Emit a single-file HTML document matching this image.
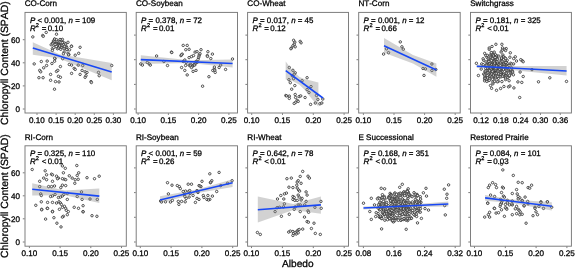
<!DOCTYPE html>
<html lang="en"><head><meta charset="utf-8"><title>Chlorophyll content vs albedo</title>
<style>html,body{margin:0;padding:0;background:#fff;overflow:hidden}svg{display:block;filter:blur(.35px)}text{font-family:"Liberation Sans",Arial,Helvetica,sans-serif;fill:#000;text-rendering:geometricPrecision;font-kerning:none;stroke:#000;stroke-width:.27px}.t{font-size:8.1px}.a{font-size:7.95px}.k{font-size:8.1px}.l{font-size:10.4px}.m{font-size:10.15px}.i{font-style:italic}.p circle{fill:#fff;fill-opacity:.7;stroke:#3c3c3c;stroke-width:.9}</style></head><body>
<svg width="575" height="269" viewBox="0 0 575 269">
<rect width="575" height="269" fill="#fff"/>
<g>
<clipPath id="c0"><rect x="25" y="12.4" width="101.3" height="100.6"/></clipPath>
<g clip-path="url(#c0)">
<g class="p"><circle cx="32.8" cy="36.9" r="1.22"/><circle cx="42.7" cy="35.5" r="1.22"/><circle cx="43.3" cy="36.3" r="1.22"/><circle cx="46.2" cy="32.4" r="1.22"/><circle cx="71.6" cy="46.2" r="1.22"/><circle cx="80.1" cy="47.3" r="1.22"/><circle cx="78.7" cy="53.3" r="1.22"/><circle cx="75.2" cy="55.2" r="1.22"/><circle cx="68.9" cy="54.6" r="1.22"/><circle cx="34.2" cy="63.9" r="1.22"/><circle cx="41.3" cy="61.5" r="1.22"/><circle cx="47.2" cy="61.1" r="1.22"/><circle cx="46.6" cy="65.5" r="1.22"/><circle cx="43.7" cy="67.8" r="1.22"/><circle cx="39.7" cy="70.4" r="1.22"/><circle cx="40.7" cy="71.8" r="1.22"/><circle cx="50.6" cy="74.4" r="1.22"/><circle cx="56.5" cy="71.4" r="1.22"/><circle cx="57.8" cy="70.4" r="1.22"/><circle cx="60.4" cy="66.5" r="1.22"/><circle cx="55.1" cy="58.6" r="1.22"/><circle cx="51.9" cy="63.5" r="1.22"/><circle cx="38.9" cy="77.7" r="1.22"/><circle cx="43.1" cy="77.7" r="1.22"/><circle cx="50.6" cy="80.3" r="1.22"/><circle cx="58.4" cy="76.3" r="1.22"/><circle cx="60.4" cy="77.3" r="1.22"/><circle cx="55.5" cy="81.6" r="1.22"/><circle cx="69.3" cy="64.5" r="1.22"/><circle cx="71.6" cy="65.1" r="1.22"/><circle cx="74.2" cy="68.4" r="1.22"/><circle cx="75.2" cy="69.4" r="1.22"/><circle cx="71.6" cy="73.4" r="1.22"/><circle cx="80.1" cy="74.4" r="1.22"/><circle cx="78.2" cy="65.1" r="1.22"/><circle cx="82.7" cy="65.5" r="1.22"/><circle cx="82.1" cy="70.4" r="1.22"/><circle cx="85.1" cy="71.8" r="1.22"/><circle cx="87" cy="72.4" r="1.22"/><circle cx="86" cy="75.7" r="1.22"/><circle cx="85.1" cy="77.3" r="1.22"/><circle cx="91" cy="81.6" r="1.22"/><circle cx="98.5" cy="72.4" r="1.22"/><circle cx="99.2" cy="75.7" r="1.22"/><circle cx="111.7" cy="65.5" r="1.22"/><circle cx="54.5" cy="89.2" r="1.22"/><circle cx="91.4" cy="82.5" r="1.22"/><circle cx="59" cy="81.9" r="1.22"/><circle cx="56.5" cy="34.2" r="1.22"/><circle cx="54.6" cy="39.2" r="1.22"/><circle cx="53.5" cy="40.9" r="1.22"/><circle cx="55.1" cy="41.5" r="1.22"/><circle cx="52.4" cy="43.1" r="1.22"/><circle cx="51.2" cy="44.8" r="1.22"/><circle cx="56.8" cy="42.6" r="1.22"/><circle cx="58.5" cy="43.1" r="1.22"/><circle cx="60.7" cy="39.8" r="1.22"/><circle cx="61.8" cy="40.4" r="1.22"/><circle cx="62.9" cy="42.6" r="1.22"/><circle cx="64.6" cy="43.1" r="1.22"/><circle cx="68" cy="42.3" r="1.22"/><circle cx="59.6" cy="44.3" r="1.22"/><circle cx="61.3" cy="44.8" r="1.22"/><circle cx="57.9" cy="45.4" r="1.22"/><circle cx="56.3" cy="46.5" r="1.22"/><circle cx="57.4" cy="48.7" r="1.22"/><circle cx="60.2" cy="47.6" r="1.22"/><circle cx="62.4" cy="46.5" r="1.22"/><circle cx="64.1" cy="47" r="1.22"/><circle cx="66.3" cy="46.5" r="1.22"/><circle cx="66.8" cy="47.6" r="1.22"/><circle cx="64.1" cy="48.7" r="1.22"/><circle cx="60.7" cy="49.3" r="1.22"/><circle cx="52.4" cy="48.7" r="1.22"/><circle cx="52.4" cy="50.4" r="1.22"/><circle cx="71.3" cy="46.3" r="1.22"/><circle cx="69.6" cy="49.8" r="1.22"/><circle cx="64.1" cy="52.1" r="1.22"/><circle cx="63.5" cy="53.7" r="1.22"/><circle cx="68" cy="53.2" r="1.22"/><circle cx="68.5" cy="54.8" r="1.22"/><circle cx="62.7" cy="58.7" r="1.22"/><circle cx="54.6" cy="58.2" r="1.22"/><circle cx="54.6" cy="61.2" r="1.22"/><circle cx="58.9" cy="44.9" r="1.22"/><circle cx="65.7" cy="43.9" r="1.22"/><circle cx="59.7" cy="45.2" r="1.22"/><circle cx="55" cy="44.4" r="1.22"/><circle cx="61.5" cy="47.4" r="1.22"/><circle cx="53.7" cy="42.2" r="1.22"/><circle cx="53.7" cy="47.6" r="1.22"/><circle cx="62.4" cy="39.4" r="1.22"/><circle cx="66.6" cy="49.2" r="1.22"/><circle cx="61.8" cy="45.5" r="1.22"/><circle cx="54.6" cy="39.1" r="1.22"/><circle cx="60" cy="39.5" r="1.22"/><circle cx="55.1" cy="41.5" r="1.22"/><circle cx="52.8" cy="43.9" r="1.22"/><circle cx="58.7" cy="47.9" r="1.22"/><circle cx="59.9" cy="45.8" r="1.22"/><circle cx="59.6" cy="46" r="1.22"/><circle cx="59" cy="41.9" r="1.22"/><circle cx="66.8" cy="49.6" r="1.22"/><circle cx="64.5" cy="46.5" r="1.22"/><circle cx="56.9" cy="41.4" r="1.22"/><circle cx="56.5" cy="39.7" r="1.22"/></g>
<polygon points="32.8,42.2 59.4,54.2 111.7,63.1 111.7,80.3 59.4,58.6 32.8,54.7" fill="#8a8a8a" fill-opacity=".38"/>
<line x1="32.8" y1="48.1" x2="111.7" y2="72" stroke="#1848f5" stroke-width="1.6"/>
</g>
<rect x="25" y="12.4" width="101.3" height="100.6" fill="none" stroke="#787878" stroke-width=".95"/>
<path d="M22.8 109h1.7M22.8 85.9h1.7M22.8 62.8h1.7M22.8 39.7h1.7M37 113.4v1.5M56.1 113.4v1.5M75.2 113.4v1.5M94.3 113.4v1.5M113.4 113.4v1.5" stroke="#444" stroke-width=".7" fill="none"/>
<text class="t" x="24.7" y="6.3">CO-Corn</text>
<text class="a" x="29.9" y="23"><tspan class="i">P</tspan> &lt; 0.001, <tspan class="i">n</tspan> = 109</text>
<text class="a" x="29.9" y="30.5"><tspan class="i">R</tspan><tspan dy="-3.8" dx=".2" font-size="5.6">2</tspan><tspan dy="3.8" dx="2.8">=</tspan><tspan dx="1.3">0.10</tspan></text>
<text class="k" text-anchor="middle" x="37" y="123.2">0.10</text>
<text class="k" text-anchor="middle" x="56.1" y="123.2">0.15</text>
<text class="k" text-anchor="middle" x="75.2" y="123.2">0.20</text>
<text class="k" text-anchor="middle" x="94.3" y="123.2">0.25</text>
<text class="k" text-anchor="middle" x="113.4" y="123.2">0.30</text>
<text class="k" text-anchor="end" x="20" y="111.8">0</text>
<text class="k" text-anchor="end" x="20" y="88.7">20</text>
<text class="k" text-anchor="end" x="20" y="65.6">40</text>
<text class="k" text-anchor="end" x="20" y="42.5">60</text>
</g>
<g>
<clipPath id="c1"><rect x="136.2" y="12.4" width="101.3" height="100.6"/></clipPath>
<g clip-path="url(#c1)">
<g class="p"><circle cx="140.8" cy="63.9" r="1.22"/><circle cx="142.4" cy="65.1" r="1.22"/><circle cx="147.3" cy="62.5" r="1.22"/><circle cx="149.3" cy="63.9" r="1.22"/><circle cx="150.3" cy="65.1" r="1.22"/><circle cx="156.6" cy="56" r="1.22"/><circle cx="163.9" cy="61.5" r="1.22"/><circle cx="167.5" cy="65.5" r="1.22"/><circle cx="171.4" cy="52.1" r="1.22"/><circle cx="171.8" cy="52.5" r="1.22"/><circle cx="180.9" cy="55.6" r="1.22"/><circle cx="182.2" cy="54.1" r="1.22"/><circle cx="183.2" cy="45.4" r="1.22"/><circle cx="187.2" cy="45.4" r="1.22"/><circle cx="185.8" cy="49.7" r="1.22"/><circle cx="189.1" cy="49.3" r="1.22"/><circle cx="184.8" cy="60" r="1.22"/><circle cx="181.6" cy="67.5" r="1.22"/><circle cx="184.8" cy="70.4" r="1.22"/><circle cx="187.2" cy="74.9" r="1.22"/><circle cx="185.6" cy="65.5" r="1.22"/><circle cx="189.1" cy="65.1" r="1.22"/><circle cx="190.7" cy="64.5" r="1.22"/><circle cx="193.1" cy="65.5" r="1.22"/><circle cx="195.1" cy="63.9" r="1.22"/><circle cx="197" cy="62.5" r="1.22"/><circle cx="193.1" cy="71.4" r="1.22"/><circle cx="196" cy="70.4" r="1.22"/><circle cx="191.5" cy="56.6" r="1.22"/><circle cx="193.5" cy="55.6" r="1.22"/><circle cx="195.1" cy="52.1" r="1.22"/><circle cx="197" cy="51.7" r="1.22"/><circle cx="198.6" cy="57.6" r="1.22"/><circle cx="199.4" cy="54.6" r="1.22"/><circle cx="201" cy="49.7" r="1.22"/><circle cx="198" cy="59.6" r="1.22"/><circle cx="196" cy="61.5" r="1.22"/><circle cx="207.9" cy="51.7" r="1.22"/><circle cx="207.3" cy="55.6" r="1.22"/><circle cx="210.8" cy="58.6" r="1.22"/><circle cx="212.4" cy="54.1" r="1.22"/><circle cx="208.9" cy="76.7" r="1.22"/><circle cx="212.8" cy="70.4" r="1.22"/><circle cx="214.4" cy="69.4" r="1.22"/><circle cx="215.2" cy="72.4" r="1.22"/><circle cx="214.4" cy="67.1" r="1.22"/><circle cx="219.1" cy="67.5" r="1.22"/><circle cx="220.7" cy="65.1" r="1.22"/><circle cx="225.6" cy="69.4" r="1.22"/><circle cx="232.5" cy="59" r="1.22"/><circle cx="181.6" cy="54.8" r="1.22"/><circle cx="192.3" cy="66.3" r="1.22"/><circle cx="193.9" cy="64.7" r="1.22"/><circle cx="190.3" cy="65.9" r="1.22"/><circle cx="199" cy="56" r="1.22"/><circle cx="207.5" cy="56.4" r="1.22"/><circle cx="214.8" cy="70.2" r="1.22"/><circle cx="189.1" cy="57.6" r="1.22"/><circle cx="183.2" cy="61.5" r="1.22"/><circle cx="186.2" cy="62.5" r="1.22"/><circle cx="200" cy="53.7" r="1.22"/><circle cx="191.5" cy="67.5" r="1.22"/><circle cx="194.7" cy="65.1" r="1.22"/><circle cx="202.6" cy="86.2" r="1.22"/></g>
<polygon points="140.8,55.2 190,60.2 232.6,59.6 232.6,67.5 190,63 140.8,63.9" fill="#8a8a8a" fill-opacity=".38"/>
<line x1="140.8" y1="59.6" x2="232.6" y2="63.5" stroke="#1848f5" stroke-width="1.6"/>
</g>
<rect x="136.2" y="12.4" width="101.3" height="100.6" fill="none" stroke="#787878" stroke-width=".95"/>
<path d="M134 109h1.7M134 84.4h1.7M134 59.7h1.7M134 35.1h1.7M138.1 113.4v1.5M168.4 113.4v1.5M198.6 113.4v1.5M228.9 113.4v1.5" stroke="#444" stroke-width=".7" fill="none"/>
<text class="t" x="135.9" y="6.3">CO-Soybean</text>
<text class="a" x="141.1" y="23"><tspan class="i">P</tspan> = 0.378, <tspan class="i">n</tspan> = 72</text>
<text class="a" x="141.1" y="30.5"><tspan class="i">R</tspan><tspan dy="-3.8" dx=".2" font-size="5.6">2</tspan><tspan dy="3.8" dx="2.8">=</tspan><tspan dx="1.3">0.01</tspan></text>
<text class="k" text-anchor="middle" x="138.1" y="123.2">0.10</text>
<text class="k" text-anchor="middle" x="168.4" y="123.2">0.15</text>
<text class="k" text-anchor="middle" x="198.6" y="123.2">0.20</text>
<text class="k" text-anchor="middle" x="228.9" y="123.2">0.25</text>
</g>
<g>
<clipPath id="c2"><rect x="247.6" y="12.4" width="100.9" height="100.6"/></clipPath>
<g clip-path="url(#c2)">
<g class="p"><circle cx="289.3" cy="67.5" r="1.22"/><circle cx="292.9" cy="70.3" r="1.22"/><circle cx="295.2" cy="72.8" r="1.22"/><circle cx="294.2" cy="74.2" r="1.22"/><circle cx="292.3" cy="75.8" r="1.22"/><circle cx="293.6" cy="78.7" r="1.22"/><circle cx="288.9" cy="79.7" r="1.22"/><circle cx="290.3" cy="82.7" r="1.22"/><circle cx="294.8" cy="85.6" r="1.22"/><circle cx="291.7" cy="89.2" r="1.22"/><circle cx="307.1" cy="77.7" r="1.22"/><circle cx="302.1" cy="80.7" r="1.22"/><circle cx="311" cy="86.6" r="1.22"/><circle cx="307.1" cy="89.6" r="1.22"/><circle cx="309" cy="92.5" r="1.22"/><circle cx="285.8" cy="95.5" r="1.22"/><circle cx="286.6" cy="95.9" r="1.22"/><circle cx="289.3" cy="96.1" r="1.22"/><circle cx="289.3" cy="98.4" r="1.22"/><circle cx="295.2" cy="94.5" r="1.22"/><circle cx="295.6" cy="97.5" r="1.22"/><circle cx="299.2" cy="96.5" r="1.22"/><circle cx="300.7" cy="95.9" r="1.22"/><circle cx="305.1" cy="97.5" r="1.22"/><circle cx="297.2" cy="100.4" r="1.22"/><circle cx="295.6" cy="102.4" r="1.22"/><circle cx="294.2" cy="103.4" r="1.22"/><circle cx="298.2" cy="101.4" r="1.22"/><circle cx="310.6" cy="104.4" r="1.22"/><circle cx="315.3" cy="103" r="1.22"/><circle cx="317.9" cy="99.4" r="1.22"/><circle cx="319.9" cy="103.8" r="1.22"/><circle cx="321.8" cy="103" r="1.22"/><circle cx="322.8" cy="99" r="1.22"/><circle cx="316.5" cy="95.5" r="1.22"/><circle cx="293.6" cy="40.3" r="1.22"/><circle cx="294.8" cy="42.2" r="1.22"/><circle cx="294.2" cy="44.2" r="1.22"/><circle cx="292.9" cy="45.8" r="1.22"/><circle cx="291.3" cy="48.1" r="1.22"/><circle cx="290.9" cy="48.7" r="1.22"/><circle cx="300.2" cy="41.4" r="1.22"/><circle cx="301.1" cy="42.8" r="1.22"/><circle cx="295.2" cy="46.8" r="1.22"/></g>
<polygon points="285.7,61.4 292,69.8 299.5,76.9 305,79.3 309.7,80.2 318.4,82.4 318.4,106.8 309.7,96.2 305,90.3 299.5,84.7 292,80.8 285.7,79.4" fill="#8a8a8a" fill-opacity=".38"/>
<line x1="285.7" y1="70.7" x2="322.9" y2="98" stroke="#1848f5" stroke-width="1.6"/>
</g>
<rect x="247.6" y="12.4" width="100.9" height="100.6" fill="none" stroke="#787878" stroke-width=".95"/>
<path d="M245.4 109h1.7M245.4 84.4h1.7M245.4 59.7h1.7M245.4 35.1h1.7M251.7 113.4v1.5M282.5 113.4v1.5M313.3 113.4v1.5M344.1 113.4v1.5" stroke="#444" stroke-width=".7" fill="none"/>
<text class="t" x="247.3" y="6.3">CO-Wheat</text>
<text class="a" x="252.5" y="23"><tspan class="i">P</tspan> = 0.017, <tspan class="i">n</tspan> = 45</text>
<text class="a" x="252.5" y="30.5"><tspan class="i">R</tspan><tspan dy="-3.8" dx=".2" font-size="5.6">2</tspan><tspan dy="3.8" dx="2.8">=</tspan><tspan dx="1.3">0.12</tspan></text>
<text class="k" text-anchor="middle" x="251.7" y="123.2">0.10</text>
<text class="k" text-anchor="middle" x="282.5" y="123.2">0.15</text>
<text class="k" text-anchor="middle" x="313.3" y="123.2">0.20</text>
<text class="k" text-anchor="middle" x="344.1" y="123.2">0.25</text>
</g>
<g>
<clipPath id="c3"><rect x="358.7" y="12.4" width="101.5" height="100.6"/></clipPath>
<g clip-path="url(#c3)">
<g class="p"><circle cx="383.6" cy="54.1" r="1.22"/><circle cx="388.5" cy="52.7" r="1.22"/><circle cx="386.5" cy="48.8" r="1.22"/><circle cx="400.3" cy="41.9" r="1.22"/><circle cx="401.9" cy="46.8" r="1.22"/><circle cx="403.3" cy="49.2" r="1.22"/><circle cx="431.9" cy="64" r="1.22"/><circle cx="423" cy="68.5" r="1.22"/><circle cx="425.4" cy="68.9" r="1.22"/><circle cx="431.9" cy="70.5" r="1.22"/><circle cx="435.8" cy="69.5" r="1.22"/><circle cx="424" cy="75.4" r="1.22"/></g>
<polygon points="384,38 413,55 436.4,63.6 436.4,76.8 413,63.4 384,52.8" fill="#8a8a8a" fill-opacity=".38"/>
<line x1="384" y1="45.8" x2="436.4" y2="69.9" stroke="#1848f5" stroke-width="1.6"/>
</g>
<rect x="358.7" y="12.4" width="101.5" height="100.6" fill="none" stroke="#787878" stroke-width=".95"/>
<path d="M356.5 109h1.7M356.5 84.4h1.7M356.5 59.7h1.7M356.5 35.1h1.7M363.4 113.4v1.5M394 113.4v1.5M424.6 113.4v1.5M455.2 113.4v1.5" stroke="#444" stroke-width=".7" fill="none"/>
<text class="t" x="358.4" y="6.3">NT-Corn</text>
<text class="a" x="363.6" y="23"><tspan class="i">P</tspan> = 0.001, <tspan class="i">n</tspan> = 12</text>
<text class="a" x="363.6" y="30.5"><tspan class="i">R</tspan><tspan dy="-3.8" dx=".2" font-size="5.6">2</tspan><tspan dy="3.8" dx="2.8">=</tspan><tspan dx="1.3">0.66</tspan></text>
<text class="k" text-anchor="middle" x="363.4" y="123.2">0.10</text>
<text class="k" text-anchor="middle" x="394" y="123.2">0.15</text>
<text class="k" text-anchor="middle" x="424.6" y="123.2">0.20</text>
<text class="k" text-anchor="middle" x="455.2" y="123.2">0.25</text>
</g>
<g>
<clipPath id="c4"><rect x="470.5" y="12.4" width="100.9" height="100.6"/></clipPath>
<g clip-path="url(#c4)">
<g class="p"><circle cx="532" cy="69.6" r="1.22"/><circle cx="538.5" cy="81.8" r="1.22"/><circle cx="549.8" cy="77.8" r="1.22"/><circle cx="566.5" cy="81.4" r="1.22"/><circle cx="513.9" cy="87.9" r="1.22"/><circle cx="521.8" cy="82.4" r="1.22"/><circle cx="523.2" cy="76.5" r="1.22"/><circle cx="522.2" cy="60.7" r="1.22"/><circle cx="491.6" cy="88.3" r="1.22"/><circle cx="496.5" cy="90.3" r="1.22"/><circle cx="492" cy="46.5" r="1.22"/><circle cx="495.9" cy="44.3" r="1.22"/><circle cx="501.9" cy="44.3" r="1.22"/><circle cx="502.5" cy="47.9" r="1.22"/><circle cx="476.4" cy="63.3" r="1.22"/><circle cx="478.4" cy="75.5" r="1.22"/><circle cx="484.7" cy="53.4" r="1.22"/><circle cx="485.7" cy="55.4" r="1.22"/><circle cx="510.3" cy="52.8" r="1.22"/><circle cx="515.3" cy="56.8" r="1.22"/><circle cx="520.8" cy="59.7" r="1.22"/><circle cx="523.2" cy="61.7" r="1.22"/><circle cx="519.7" cy="97.5" r="1.22"/><circle cx="501.4" cy="73.1" r="1.22"/><circle cx="506.2" cy="48.6" r="1.22"/><circle cx="484.6" cy="78.8" r="1.22"/><circle cx="497" cy="63.4" r="1.22"/><circle cx="499" cy="73.4" r="1.22"/><circle cx="492.5" cy="68.1" r="1.22"/><circle cx="507.5" cy="68.9" r="1.22"/><circle cx="501.3" cy="63.3" r="1.22"/><circle cx="481.2" cy="69.1" r="1.22"/><circle cx="492.8" cy="73.2" r="1.22"/><circle cx="498.9" cy="73.1" r="1.22"/><circle cx="503.9" cy="86.5" r="1.22"/><circle cx="494.4" cy="69.5" r="1.22"/><circle cx="493" cy="70" r="1.22"/><circle cx="481.7" cy="63.9" r="1.22"/><circle cx="510.9" cy="73.7" r="1.22"/><circle cx="493.4" cy="66.8" r="1.22"/><circle cx="506.7" cy="64.9" r="1.22"/><circle cx="483.7" cy="60.3" r="1.22"/><circle cx="490.1" cy="75.7" r="1.22"/><circle cx="490.5" cy="85.5" r="1.22"/><circle cx="494" cy="59.1" r="1.22"/><circle cx="498.5" cy="78.3" r="1.22"/><circle cx="509.4" cy="76.2" r="1.22"/><circle cx="485.1" cy="73.9" r="1.22"/><circle cx="501" cy="71.7" r="1.22"/><circle cx="493.9" cy="60.7" r="1.22"/><circle cx="493.4" cy="65.6" r="1.22"/><circle cx="487" cy="57.2" r="1.22"/><circle cx="495.5" cy="54.7" r="1.22"/><circle cx="496.7" cy="59" r="1.22"/><circle cx="486" cy="77.1" r="1.22"/><circle cx="505.8" cy="69.6" r="1.22"/><circle cx="501.7" cy="74.5" r="1.22"/><circle cx="489.3" cy="73.1" r="1.22"/><circle cx="492.9" cy="83.8" r="1.22"/><circle cx="497.5" cy="67.5" r="1.22"/><circle cx="497.3" cy="63.8" r="1.22"/><circle cx="494.8" cy="70.2" r="1.22"/><circle cx="497.8" cy="73.2" r="1.22"/><circle cx="508.5" cy="71.1" r="1.22"/><circle cx="494.4" cy="69.6" r="1.22"/><circle cx="502.9" cy="55" r="1.22"/><circle cx="494.5" cy="65.8" r="1.22"/><circle cx="507.7" cy="77" r="1.22"/><circle cx="492.9" cy="61.2" r="1.22"/><circle cx="483.1" cy="58.8" r="1.22"/><circle cx="491.8" cy="52.8" r="1.22"/><circle cx="502.3" cy="71.1" r="1.22"/><circle cx="494.1" cy="66.4" r="1.22"/><circle cx="494.2" cy="52.1" r="1.22"/><circle cx="498.3" cy="64.5" r="1.22"/><circle cx="489.7" cy="76.3" r="1.22"/><circle cx="504" cy="64" r="1.22"/><circle cx="505.7" cy="69.7" r="1.22"/><circle cx="503" cy="56.9" r="1.22"/><circle cx="501.5" cy="59" r="1.22"/><circle cx="496.3" cy="57.6" r="1.22"/><circle cx="491.1" cy="66" r="1.22"/><circle cx="497.1" cy="65.8" r="1.22"/><circle cx="486" cy="65.4" r="1.22"/><circle cx="490.4" cy="72.4" r="1.22"/><circle cx="496.9" cy="59.2" r="1.22"/><circle cx="491.5" cy="60.5" r="1.22"/><circle cx="492.5" cy="79.3" r="1.22"/><circle cx="494.7" cy="77.9" r="1.22"/><circle cx="501.1" cy="60.4" r="1.22"/><circle cx="500.1" cy="65.5" r="1.22"/><circle cx="510.9" cy="72.2" r="1.22"/><circle cx="494.6" cy="56.6" r="1.22"/><circle cx="500.6" cy="88.5" r="1.22"/><circle cx="501" cy="61.8" r="1.22"/><circle cx="488" cy="64.2" r="1.22"/><circle cx="501.7" cy="64.6" r="1.22"/><circle cx="494.8" cy="68.6" r="1.22"/><circle cx="500.6" cy="74.4" r="1.22"/><circle cx="495.7" cy="77.2" r="1.22"/><circle cx="492.7" cy="66.6" r="1.22"/><circle cx="488.5" cy="61.1" r="1.22"/><circle cx="508.4" cy="70" r="1.22"/><circle cx="483.2" cy="64.7" r="1.22"/><circle cx="508.5" cy="86.8" r="1.22"/><circle cx="492.2" cy="74.5" r="1.22"/><circle cx="501" cy="67.1" r="1.22"/><circle cx="502.2" cy="67.4" r="1.22"/><circle cx="507.2" cy="63.4" r="1.22"/><circle cx="498.7" cy="64.6" r="1.22"/><circle cx="496.9" cy="77.3" r="1.22"/><circle cx="506.4" cy="73.7" r="1.22"/><circle cx="496.7" cy="69" r="1.22"/><circle cx="517.9" cy="81.9" r="1.22"/><circle cx="496" cy="68.9" r="1.22"/><circle cx="504.7" cy="49.5" r="1.22"/><circle cx="495" cy="69.7" r="1.22"/><circle cx="492.9" cy="82" r="1.22"/><circle cx="504.1" cy="73.9" r="1.22"/><circle cx="492.7" cy="71.5" r="1.22"/><circle cx="497.3" cy="65.2" r="1.22"/><circle cx="497.8" cy="73.9" r="1.22"/><circle cx="491.3" cy="76.6" r="1.22"/><circle cx="509.1" cy="80.7" r="1.22"/><circle cx="502.2" cy="66.6" r="1.22"/><circle cx="492.8" cy="63.3" r="1.22"/><circle cx="489.3" cy="63.4" r="1.22"/><circle cx="501.4" cy="70.1" r="1.22"/><circle cx="488" cy="70.2" r="1.22"/><circle cx="499.9" cy="68.8" r="1.22"/><circle cx="496.1" cy="59.8" r="1.22"/><circle cx="486" cy="61.9" r="1.22"/><circle cx="489.3" cy="49.4" r="1.22"/><circle cx="499.3" cy="66.9" r="1.22"/><circle cx="492.1" cy="67.2" r="1.22"/><circle cx="498.3" cy="81.4" r="1.22"/><circle cx="491.5" cy="67.2" r="1.22"/><circle cx="504.9" cy="62.4" r="1.22"/><circle cx="487.2" cy="71.2" r="1.22"/><circle cx="500.5" cy="69.9" r="1.22"/><circle cx="516.5" cy="61" r="1.22"/><circle cx="484.6" cy="80.8" r="1.22"/><circle cx="485.9" cy="79.6" r="1.22"/><circle cx="491.2" cy="63.9" r="1.22"/><circle cx="501.5" cy="68.3" r="1.22"/><circle cx="501.1" cy="75" r="1.22"/><circle cx="495" cy="73.4" r="1.22"/><circle cx="509.9" cy="57.2" r="1.22"/><circle cx="513.7" cy="58.6" r="1.22"/><circle cx="506.2" cy="61.7" r="1.22"/><circle cx="490.7" cy="74.9" r="1.22"/><circle cx="497.1" cy="61.5" r="1.22"/><circle cx="501.3" cy="63.9" r="1.22"/><circle cx="489.4" cy="68.4" r="1.22"/><circle cx="494.7" cy="71.1" r="1.22"/><circle cx="491.9" cy="64.4" r="1.22"/><circle cx="489.6" cy="68.5" r="1.22"/><circle cx="484.8" cy="77.1" r="1.22"/><circle cx="494.6" cy="62.9" r="1.22"/><circle cx="497.1" cy="56.1" r="1.22"/><circle cx="488.3" cy="64.4" r="1.22"/><circle cx="505.6" cy="79.6" r="1.22"/><circle cx="490.6" cy="68" r="1.22"/><circle cx="495.4" cy="70.9" r="1.22"/><circle cx="494.5" cy="61" r="1.22"/><circle cx="505.8" cy="68.9" r="1.22"/><circle cx="489.6" cy="58.4" r="1.22"/><circle cx="502.2" cy="50.2" r="1.22"/><circle cx="486.3" cy="65.5" r="1.22"/><circle cx="499.1" cy="68.9" r="1.22"/><circle cx="498.3" cy="70.2" r="1.22"/><circle cx="491.7" cy="69.4" r="1.22"/><circle cx="495.3" cy="67.3" r="1.22"/><circle cx="493.1" cy="76.1" r="1.22"/><circle cx="485.1" cy="71.8" r="1.22"/><circle cx="495.4" cy="76.5" r="1.22"/><circle cx="487.2" cy="75.7" r="1.22"/><circle cx="483.7" cy="74.1" r="1.22"/><circle cx="497.5" cy="59.3" r="1.22"/><circle cx="505.5" cy="75.7" r="1.22"/><circle cx="493.2" cy="70.3" r="1.22"/><circle cx="488.3" cy="62.4" r="1.22"/><circle cx="487.3" cy="70.6" r="1.22"/><circle cx="488.7" cy="61.1" r="1.22"/><circle cx="491.7" cy="57.8" r="1.22"/><circle cx="491.7" cy="72.3" r="1.22"/><circle cx="490.6" cy="65" r="1.22"/><circle cx="495.8" cy="70.3" r="1.22"/><circle cx="506.8" cy="77.2" r="1.22"/><circle cx="507.2" cy="60.3" r="1.22"/><circle cx="496.4" cy="56.1" r="1.22"/><circle cx="505.6" cy="50.5" r="1.22"/><circle cx="492.2" cy="64.4" r="1.22"/><circle cx="486.5" cy="70.5" r="1.22"/><circle cx="492.1" cy="66.9" r="1.22"/><circle cx="507.4" cy="70.5" r="1.22"/><circle cx="488.7" cy="80.5" r="1.22"/><circle cx="501.1" cy="52" r="1.22"/><circle cx="496" cy="67" r="1.22"/><circle cx="500.2" cy="68.7" r="1.22"/><circle cx="505.5" cy="62.6" r="1.22"/><circle cx="504.7" cy="66.6" r="1.22"/><circle cx="496.2" cy="72.5" r="1.22"/><circle cx="500.6" cy="63.1" r="1.22"/><circle cx="484.8" cy="75" r="1.22"/><circle cx="497.4" cy="63.1" r="1.22"/><circle cx="492.5" cy="71.2" r="1.22"/><circle cx="499.6" cy="67.6" r="1.22"/><circle cx="494.2" cy="61.4" r="1.22"/><circle cx="513.6" cy="63.9" r="1.22"/><circle cx="512" cy="70.3" r="1.22"/><circle cx="485.1" cy="78.3" r="1.22"/><circle cx="509.4" cy="75.3" r="1.22"/><circle cx="503.6" cy="57" r="1.22"/><circle cx="494.8" cy="57.2" r="1.22"/><circle cx="498.1" cy="70.9" r="1.22"/><circle cx="493.4" cy="75.1" r="1.22"/><circle cx="493.3" cy="54.8" r="1.22"/><circle cx="495.3" cy="69.5" r="1.22"/><circle cx="510.7" cy="63.3" r="1.22"/><circle cx="498.8" cy="56.1" r="1.22"/><circle cx="494.5" cy="63.3" r="1.22"/><circle cx="492.6" cy="58.5" r="1.22"/><circle cx="487.3" cy="55.4" r="1.22"/><circle cx="505" cy="60.8" r="1.22"/><circle cx="505" cy="67.9" r="1.22"/><circle cx="503.8" cy="66.8" r="1.22"/><circle cx="490.8" cy="56.3" r="1.22"/><circle cx="495.1" cy="57.4" r="1.22"/><circle cx="495" cy="63.7" r="1.22"/><circle cx="505" cy="57.9" r="1.22"/><circle cx="493.1" cy="54.9" r="1.22"/><circle cx="489.8" cy="55.3" r="1.22"/><circle cx="507.6" cy="77.5" r="1.22"/><circle cx="511.8" cy="71.7" r="1.22"/><circle cx="505.6" cy="58.5" r="1.22"/><circle cx="492.6" cy="72.2" r="1.22"/><circle cx="499.6" cy="69.8" r="1.22"/><circle cx="500.5" cy="72.5" r="1.22"/><circle cx="503.9" cy="76.4" r="1.22"/><circle cx="512.2" cy="71.2" r="1.22"/><circle cx="493.4" cy="56" r="1.22"/><circle cx="491.3" cy="52.6" r="1.22"/><circle cx="512.7" cy="72" r="1.22"/><circle cx="489.5" cy="70.8" r="1.22"/><circle cx="489.3" cy="78.6" r="1.22"/><circle cx="506" cy="76.1" r="1.22"/><circle cx="509.9" cy="86" r="1.22"/><circle cx="501.5" cy="58.1" r="1.22"/><circle cx="487.9" cy="72.8" r="1.22"/><circle cx="494.7" cy="69.8" r="1.22"/><circle cx="503.5" cy="74.9" r="1.22"/><circle cx="499" cy="71.8" r="1.22"/><circle cx="488.3" cy="58.7" r="1.22"/><circle cx="497.7" cy="76.5" r="1.22"/><circle cx="507.2" cy="66.4" r="1.22"/><circle cx="497.3" cy="71.6" r="1.22"/><circle cx="506" cy="62.5" r="1.22"/><circle cx="497.8" cy="72.2" r="1.22"/><circle cx="508.9" cy="65.5" r="1.22"/><circle cx="513.4" cy="74.8" r="1.22"/><circle cx="485.8" cy="68.5" r="1.22"/><circle cx="486.8" cy="79.8" r="1.22"/><circle cx="487.6" cy="77.9" r="1.22"/><circle cx="495" cy="66.6" r="1.22"/><circle cx="487.5" cy="67.9" r="1.22"/><circle cx="507.5" cy="66.8" r="1.22"/><circle cx="496.8" cy="64.9" r="1.22"/><circle cx="491.1" cy="67.3" r="1.22"/><circle cx="496.4" cy="73.4" r="1.22"/><circle cx="498" cy="71" r="1.22"/><circle cx="495.2" cy="57.4" r="1.22"/><circle cx="520.1" cy="72" r="1.22"/><circle cx="501.9" cy="81.6" r="1.22"/><circle cx="495.7" cy="69.7" r="1.22"/><circle cx="489.2" cy="48" r="1.22"/><circle cx="495.8" cy="78" r="1.22"/><circle cx="497" cy="65.5" r="1.22"/><circle cx="489.8" cy="63.9" r="1.22"/><circle cx="486.8" cy="81.4" r="1.22"/><circle cx="490.5" cy="57.2" r="1.22"/><circle cx="511.7" cy="64" r="1.22"/><circle cx="491.5" cy="65" r="1.22"/><circle cx="490.2" cy="66.1" r="1.22"/><circle cx="494.7" cy="81.4" r="1.22"/><circle cx="489.3" cy="80.3" r="1.22"/><circle cx="487.4" cy="65.6" r="1.22"/><circle cx="502.1" cy="61.2" r="1.22"/><circle cx="500.1" cy="74.5" r="1.22"/><circle cx="491.6" cy="66.7" r="1.22"/><circle cx="505.7" cy="78" r="1.22"/><circle cx="497.3" cy="81.8" r="1.22"/><circle cx="495.8" cy="68.3" r="1.22"/><circle cx="501" cy="76.8" r="1.22"/><circle cx="485.2" cy="71" r="1.22"/><circle cx="494.1" cy="64.9" r="1.22"/><circle cx="502.6" cy="76.2" r="1.22"/><circle cx="494.6" cy="63.1" r="1.22"/><circle cx="493" cy="70.6" r="1.22"/><circle cx="496.5" cy="66.2" r="1.22"/><circle cx="498.6" cy="73.8" r="1.22"/><circle cx="499.2" cy="64.4" r="1.22"/><circle cx="488.9" cy="56.9" r="1.22"/><circle cx="490.8" cy="68" r="1.22"/><circle cx="486.2" cy="65.1" r="1.22"/><circle cx="492.4" cy="71.5" r="1.22"/><circle cx="506.2" cy="73.1" r="1.22"/><circle cx="495.1" cy="57.4" r="1.22"/><circle cx="491.7" cy="73.9" r="1.22"/><circle cx="488.9" cy="61.4" r="1.22"/><circle cx="506.1" cy="70.1" r="1.22"/><circle cx="511.4" cy="67.7" r="1.22"/><circle cx="500.3" cy="65.5" r="1.22"/></g>
<polygon points="476.8,64.4 498,66 566.6,66 566.6,75.6 498,68.6 476.8,68" fill="#8a8a8a" fill-opacity=".38"/>
<line x1="476.8" y1="66.2" x2="566.6" y2="71" stroke="#1848f5" stroke-width="1.6"/>
</g>
<rect x="470.5" y="12.4" width="100.9" height="100.6" fill="none" stroke="#787878" stroke-width=".95"/>
<path d="M468.3 109h1.7M468.3 84.4h1.7M468.3 59.7h1.7M468.3 35.1h1.7M481.1 113.4v1.5M500.9 113.4v1.5M520.7 113.4v1.5M540.5 113.4v1.5M560.3 113.4v1.5" stroke="#444" stroke-width=".7" fill="none"/>
<text class="t" x="470.2" y="6.3">Switchgrass</text>
<text class="a" x="475.4" y="23"><tspan class="i">P</tspan> = 0.181, <tspan class="i">n</tspan> = 325</text>
<text class="a" x="475.4" y="30.5"><tspan class="i">R</tspan><tspan dy="-3.8" dx=".2" font-size="5.6">2</tspan><tspan dy="3.8" dx="2.8">&lt;</tspan><tspan dx="1.3">0.01</tspan></text>
<text class="k" text-anchor="middle" x="481.1" y="123.2">0.12</text>
<text class="k" text-anchor="middle" x="500.9" y="123.2">0.18</text>
<text class="k" text-anchor="middle" x="520.7" y="123.2">0.24</text>
<text class="k" text-anchor="middle" x="540.5" y="123.2">0.30</text>
<text class="k" text-anchor="middle" x="560.3" y="123.2">0.36</text>
</g>
<g>
<clipPath id="c5"><rect x="25" y="145.8" width="101.3" height="100.4"/></clipPath>
<g clip-path="url(#c5)">
<g class="p"><circle cx="32.2" cy="169.5" r="1.22"/><circle cx="45.2" cy="170.8" r="1.22"/><circle cx="62.4" cy="165.9" r="1.22"/><circle cx="65.3" cy="168.3" r="1.22"/><circle cx="76.8" cy="165.5" r="1.22"/><circle cx="78.7" cy="172.8" r="1.22"/><circle cx="77.2" cy="175.4" r="1.22"/><circle cx="87" cy="177.7" r="1.22"/><circle cx="94.5" cy="178.7" r="1.22"/><circle cx="99.2" cy="176.2" r="1.22"/><circle cx="46.6" cy="174.8" r="1.22"/><circle cx="51.5" cy="174.2" r="1.22"/><circle cx="52.5" cy="174.8" r="1.22"/><circle cx="56.5" cy="176.2" r="1.22"/><circle cx="58.4" cy="178.1" r="1.22"/><circle cx="62.4" cy="178.7" r="1.22"/><circle cx="64.4" cy="179.3" r="1.22"/><circle cx="65.7" cy="179.7" r="1.22"/><circle cx="69.3" cy="175.8" r="1.22"/><circle cx="72.2" cy="178.1" r="1.22"/><circle cx="63.4" cy="172.8" r="1.22"/><circle cx="43.7" cy="178.1" r="1.22"/><circle cx="46.6" cy="179.7" r="1.22"/><circle cx="39.7" cy="181.3" r="1.22"/><circle cx="52.5" cy="181.3" r="1.22"/><circle cx="57.5" cy="178.7" r="1.22"/><circle cx="75.2" cy="179.7" r="1.22"/><circle cx="78.2" cy="179.3" r="1.22"/><circle cx="74.8" cy="183.3" r="1.22"/><circle cx="39.7" cy="186.6" r="1.22"/><circle cx="48.6" cy="186.6" r="1.22"/><circle cx="51.5" cy="186.6" r="1.22"/><circle cx="54.5" cy="186" r="1.22"/><circle cx="62.4" cy="185.2" r="1.22"/><circle cx="65.7" cy="185.6" r="1.22"/><circle cx="60.8" cy="187.6" r="1.22"/><circle cx="40.7" cy="193.9" r="1.22"/><circle cx="41.3" cy="195.5" r="1.22"/><circle cx="50.6" cy="196.5" r="1.22"/><circle cx="52.5" cy="195.9" r="1.22"/><circle cx="55.1" cy="194.5" r="1.22"/><circle cx="58.4" cy="197.5" r="1.22"/><circle cx="60.4" cy="197.1" r="1.22"/><circle cx="62.4" cy="195.9" r="1.22"/><circle cx="63.8" cy="194.5" r="1.22"/><circle cx="67.3" cy="193.5" r="1.22"/><circle cx="81.5" cy="191.9" r="1.22"/><circle cx="77.2" cy="196.5" r="1.22"/><circle cx="82.1" cy="199.4" r="1.22"/><circle cx="90" cy="199" r="1.22"/><circle cx="97.3" cy="199.4" r="1.22"/><circle cx="67.3" cy="199.4" r="1.22"/><circle cx="59" cy="201.8" r="1.22"/><circle cx="60.4" cy="203" r="1.22"/><circle cx="61.4" cy="204.4" r="1.22"/><circle cx="35.8" cy="205.3" r="1.22"/><circle cx="41.3" cy="201.8" r="1.22"/><circle cx="47.6" cy="202.4" r="1.22"/><circle cx="52.5" cy="202.4" r="1.22"/><circle cx="56.5" cy="203" r="1.22"/><circle cx="64.4" cy="206.3" r="1.22"/><circle cx="65.7" cy="208.3" r="1.22"/><circle cx="62.4" cy="207.3" r="1.22"/><circle cx="59.4" cy="209.3" r="1.22"/><circle cx="47.2" cy="208.3" r="1.22"/><circle cx="41.7" cy="209.3" r="1.22"/><circle cx="52.5" cy="211.3" r="1.22"/><circle cx="74.2" cy="207.3" r="1.22"/><circle cx="78.5" cy="208.3" r="1.22"/><circle cx="83.1" cy="205.7" r="1.22"/><circle cx="66.3" cy="210.3" r="1.22"/><circle cx="68.3" cy="211.6" r="1.22"/><circle cx="83.1" cy="211.6" r="1.22"/><circle cx="83.1" cy="211.8" r="1.22"/><circle cx="92" cy="215.7" r="1.22"/><circle cx="96.9" cy="216.3" r="1.22"/><circle cx="67.3" cy="214.7" r="1.22"/><circle cx="63.4" cy="216.3" r="1.22"/><circle cx="62.4" cy="217.1" r="1.22"/><circle cx="53.9" cy="217.7" r="1.22"/><circle cx="45.6" cy="219.1" r="1.22"/><circle cx="56.9" cy="223.2" r="1.22"/><circle cx="61" cy="226.9" r="1.22"/><circle cx="52.5" cy="211.8" r="1.22"/><circle cx="47.6" cy="208.4" r="1.22"/><circle cx="41.7" cy="209.8" r="1.22"/></g>
<polygon points="32.2,183.3 65,190.4 99.3,188.6 99.3,203 65,195.3 32.2,195.5" fill="#8a8a8a" fill-opacity=".38"/>
<line x1="32.2" y1="189.2" x2="99.3" y2="196.1" stroke="#1848f5" stroke-width="1.6"/>
</g>
<rect x="25" y="145.8" width="101.3" height="100.4" fill="none" stroke="#787878" stroke-width=".95"/>
<path d="M22.8 242h1.7M22.8 218.8h1.7M22.8 195.8h1.7M22.8 172.8h1.7M29.4 246.6v1.5M60.1 246.6v1.5M90.8 246.6v1.5M121.5 246.6v1.5" stroke="#444" stroke-width=".7" fill="none"/>
<text class="t" x="24.7" y="139.8">RI-Corn</text>
<text class="a" x="29.9" y="156.1"><tspan class="i">P</tspan> = 0.325, <tspan class="i">n</tspan> = 110</text>
<text class="a" x="29.9" y="163.7"><tspan class="i">R</tspan><tspan dy="-3.8" dx=".2" font-size="5.6">2</tspan><tspan dy="3.8" dx="2.8">&lt;</tspan><tspan dx="1.3">0.01</tspan></text>
<text class="k" text-anchor="middle" x="29.4" y="256.3">0.10</text>
<text class="k" text-anchor="middle" x="60.1" y="256.3">0.15</text>
<text class="k" text-anchor="middle" x="90.8" y="256.3">0.20</text>
<text class="k" text-anchor="middle" x="121.5" y="256.3">0.25</text>
<text class="k" text-anchor="end" x="20" y="244.8">0</text>
<text class="k" text-anchor="end" x="20" y="221.6">20</text>
<text class="k" text-anchor="end" x="20" y="198.6">40</text>
<text class="k" text-anchor="end" x="20" y="175.6">60</text>
</g>
<g>
<clipPath id="c6"><rect x="136.2" y="145.8" width="101.3" height="100.4"/></clipPath>
<g clip-path="url(#c6)">
<g class="p"><circle cx="160.6" cy="201" r="1.22"/><circle cx="161.5" cy="202" r="1.22"/><circle cx="165.5" cy="201.8" r="1.22"/><circle cx="167.5" cy="182.7" r="1.22"/><circle cx="168.4" cy="193.9" r="1.22"/><circle cx="170.4" cy="202" r="1.22"/><circle cx="172" cy="185.2" r="1.22"/><circle cx="172.4" cy="200.4" r="1.22"/><circle cx="177.3" cy="185.6" r="1.22"/><circle cx="178.3" cy="201.4" r="1.22"/><circle cx="179.3" cy="186.6" r="1.22"/><circle cx="180.3" cy="188.6" r="1.22"/><circle cx="178.9" cy="204.4" r="1.22"/><circle cx="181.6" cy="201.4" r="1.22"/><circle cx="183.2" cy="191.5" r="1.22"/><circle cx="184.2" cy="194.5" r="1.22"/><circle cx="185.2" cy="201.8" r="1.22"/><circle cx="186.2" cy="198.4" r="1.22"/><circle cx="188.2" cy="184.2" r="1.22"/><circle cx="188.7" cy="191.5" r="1.22"/><circle cx="189.1" cy="197.1" r="1.22"/><circle cx="190.1" cy="193.5" r="1.22"/><circle cx="191.5" cy="184.2" r="1.22"/><circle cx="193.1" cy="195.5" r="1.22"/><circle cx="195.4" cy="202.4" r="1.22"/><circle cx="197" cy="190.6" r="1.22"/><circle cx="198" cy="192.5" r="1.22"/><circle cx="197" cy="198.4" r="1.22"/><circle cx="199" cy="199.4" r="1.22"/><circle cx="199" cy="185.6" r="1.22"/><circle cx="201" cy="186.6" r="1.22"/><circle cx="202" cy="181.3" r="1.22"/><circle cx="203.3" cy="195.5" r="1.22"/><circle cx="203.9" cy="197.5" r="1.22"/><circle cx="206.9" cy="199.4" r="1.22"/><circle cx="207.9" cy="195.5" r="1.22"/><circle cx="209.8" cy="199.4" r="1.22"/><circle cx="209.8" cy="173.8" r="1.22"/><circle cx="210.4" cy="182.7" r="1.22"/><circle cx="211.8" cy="180.7" r="1.22"/><circle cx="212.4" cy="196.1" r="1.22"/><circle cx="216.7" cy="191.5" r="1.22"/><circle cx="219.1" cy="172.4" r="1.22"/><circle cx="220.7" cy="185.6" r="1.22"/><circle cx="227.6" cy="183.3" r="1.22"/><circle cx="232.1" cy="180.7" r="1.22"/><circle cx="184.8" cy="196.5" r="1.22"/><circle cx="189.7" cy="190.6" r="1.22"/><circle cx="200" cy="186" r="1.22"/><circle cx="210.8" cy="182.1" r="1.22"/><circle cx="208.5" cy="200" r="1.22"/><circle cx="185.6" cy="191.1" r="1.22"/><circle cx="197.6" cy="191.5" r="1.22"/></g>
<polygon points="160,196.3 198,189.3 232.6,179.3 232.6,186.9 198,192.9 160,203.1" fill="#8a8a8a" fill-opacity=".38"/>
<line x1="160" y1="200" x2="232.6" y2="182.7" stroke="#1848f5" stroke-width="1.6"/>
</g>
<rect x="136.2" y="145.8" width="101.3" height="100.4" fill="none" stroke="#787878" stroke-width=".95"/>
<path d="M134 242h1.7M134 217.3h1.7M134 192.6h1.7M134 167.9h1.7M140.3 246.6v1.5M171.1 246.6v1.5M201.9 246.6v1.5M232.7 246.6v1.5" stroke="#444" stroke-width=".7" fill="none"/>
<text class="t" x="135.9" y="139.8">RI-Soybean</text>
<text class="a" x="141.1" y="156.1"><tspan class="i">P</tspan> &lt; 0.001, <tspan class="i">n</tspan> = 59</text>
<text class="a" x="141.1" y="163.7"><tspan class="i">R</tspan><tspan dy="-3.8" dx=".2" font-size="5.6">2</tspan><tspan dy="3.8" dx="2.8">=</tspan><tspan dx="1.3">0.26</tspan></text>
<text class="k" text-anchor="middle" x="140.3" y="256.3">0.10</text>
<text class="k" text-anchor="middle" x="171.1" y="256.3">0.15</text>
<text class="k" text-anchor="middle" x="201.9" y="256.3">0.20</text>
<text class="k" text-anchor="middle" x="232.7" y="256.3">0.25</text>
</g>
<g>
<clipPath id="c7"><rect x="247.6" y="145.8" width="100.9" height="100.4"/></clipPath>
<g clip-path="url(#c7)">
<g class="p"><circle cx="302.7" cy="171.4" r="1.22"/><circle cx="300.2" cy="176.4" r="1.22"/><circle cx="308" cy="176.2" r="1.22"/><circle cx="309.4" cy="178.1" r="1.22"/><circle cx="286.9" cy="178.7" r="1.22"/><circle cx="291.3" cy="178.1" r="1.22"/><circle cx="298.2" cy="180.7" r="1.22"/><circle cx="297.2" cy="182.1" r="1.22"/><circle cx="301.1" cy="183.3" r="1.22"/><circle cx="296.8" cy="185.2" r="1.22"/><circle cx="288.9" cy="187.2" r="1.22"/><circle cx="292.9" cy="187.6" r="1.22"/><circle cx="297.2" cy="188" r="1.22"/><circle cx="298.6" cy="190" r="1.22"/><circle cx="299.6" cy="191.1" r="1.22"/><circle cx="306.1" cy="191.9" r="1.22"/><circle cx="286.4" cy="193.1" r="1.22"/><circle cx="284.4" cy="193.9" r="1.22"/><circle cx="307.1" cy="195.1" r="1.22"/><circle cx="280.8" cy="195.5" r="1.22"/><circle cx="298.2" cy="195.1" r="1.22"/><circle cx="292.9" cy="196.5" r="1.22"/><circle cx="294.2" cy="197.5" r="1.22"/><circle cx="299.2" cy="197.1" r="1.22"/><circle cx="302.1" cy="198.4" r="1.22"/><circle cx="277.5" cy="199" r="1.22"/><circle cx="283.8" cy="199" r="1.22"/><circle cx="292.9" cy="199.4" r="1.22"/><circle cx="294.8" cy="200.4" r="1.22"/><circle cx="297.2" cy="200.4" r="1.22"/><circle cx="301.1" cy="200" r="1.22"/><circle cx="306.1" cy="201.4" r="1.22"/><circle cx="320.9" cy="201.4" r="1.22"/><circle cx="284.4" cy="203.8" r="1.22"/><circle cx="298.2" cy="204.9" r="1.22"/><circle cx="300.2" cy="204.9" r="1.22"/><circle cx="304.7" cy="204.9" r="1.22"/><circle cx="295.2" cy="206.9" r="1.22"/><circle cx="283.4" cy="206.9" r="1.22"/><circle cx="279.5" cy="207.3" r="1.22"/><circle cx="277.1" cy="207.7" r="1.22"/><circle cx="314.9" cy="207.3" r="1.22"/><circle cx="321.2" cy="208.3" r="1.22"/><circle cx="294.2" cy="209.3" r="1.22"/><circle cx="275.1" cy="211.6" r="1.22"/><circle cx="300.2" cy="211.6" r="1.22"/><circle cx="308" cy="210.9" r="1.22"/><circle cx="281.4" cy="216.3" r="1.22"/><circle cx="289.3" cy="214.3" r="1.22"/><circle cx="304.5" cy="217.1" r="1.22"/><circle cx="307.1" cy="221.6" r="1.22"/><circle cx="308.4" cy="222.2" r="1.22"/><circle cx="314" cy="223.2" r="1.22"/><circle cx="311.4" cy="228.5" r="1.22"/><circle cx="315.3" cy="233.4" r="1.22"/><circle cx="320.3" cy="234.4" r="1.22"/><circle cx="257.4" cy="232.5" r="1.22"/><circle cx="260.3" cy="234.4" r="1.22"/><circle cx="288.7" cy="232.1" r="1.22"/><circle cx="290.3" cy="231.1" r="1.22"/><circle cx="292.9" cy="231.5" r="1.22"/><circle cx="293.6" cy="233.4" r="1.22"/><circle cx="292.9" cy="235.4" r="1.22"/><circle cx="295.2" cy="232.5" r="1.22"/><circle cx="297.2" cy="231.1" r="1.22"/><circle cx="298.2" cy="230.1" r="1.22"/><circle cx="299.2" cy="229.5" r="1.22"/><circle cx="302.7" cy="229.1" r="1.22"/><circle cx="296.2" cy="234" r="1.22"/><circle cx="298.2" cy="232.8" r="1.22"/><circle cx="308.6" cy="212.3" r="1.22"/></g>
<polygon points="257.8,196.6 293.3,203.9 320.9,196.6 320.9,213.7 293.3,209.9 257.8,222.6" fill="#8a8a8a" fill-opacity=".38"/>
<line x1="257.8" y1="209.8" x2="320.9" y2="204.9" stroke="#1848f5" stroke-width="1.6"/>
</g>
<rect x="247.6" y="145.8" width="100.9" height="100.4" fill="none" stroke="#787878" stroke-width=".95"/>
<path d="M245.4 242h1.7M245.4 217.3h1.7M245.4 192.6h1.7M245.4 167.9h1.7M251.5 246.6v1.5M282.4 246.6v1.5M313.3 246.6v1.5M344.2 246.6v1.5" stroke="#444" stroke-width=".7" fill="none"/>
<text class="t" x="247.3" y="139.8">RI-Wheat</text>
<text class="a" x="252.5" y="156.1"><tspan class="i">P</tspan> = 0.642, <tspan class="i">n</tspan> = 78</text>
<text class="a" x="252.5" y="163.7"><tspan class="i">R</tspan><tspan dy="-3.8" dx=".2" font-size="5.6">2</tspan><tspan dy="3.8" dx="2.8">&lt;</tspan><tspan dx="1.3">0.01</tspan></text>
<text class="k" text-anchor="middle" x="251.5" y="256.3">0.10</text>
<text class="k" text-anchor="middle" x="282.4" y="256.3">0.15</text>
<text class="k" text-anchor="middle" x="313.3" y="256.3">0.20</text>
<text class="k" text-anchor="middle" x="344.2" y="256.3">0.25</text>
</g>
<g>
<clipPath id="c8"><rect x="358.7" y="145.8" width="101.5" height="100.4"/></clipPath>
<g clip-path="url(#c8)">
<g class="p"><circle cx="363.5" cy="203.2" r="1.22"/><circle cx="371.3" cy="198.3" r="1.22"/><circle cx="402.3" cy="184.3" r="1.22"/><circle cx="399.7" cy="187.3" r="1.22"/><circle cx="426" cy="188.3" r="1.22"/><circle cx="423.4" cy="192.8" r="1.22"/><circle cx="426.5" cy="196.1" r="1.22"/><circle cx="444.3" cy="189.2" r="1.22"/><circle cx="448.6" cy="184.9" r="1.22"/><circle cx="447" cy="194.2" r="1.22"/><circle cx="446.7" cy="198.3" r="1.22"/><circle cx="425" cy="208.6" r="1.22"/><circle cx="428.5" cy="210.1" r="1.22"/><circle cx="445.3" cy="214.9" r="1.22"/><circle cx="417.5" cy="222.9" r="1.22"/><circle cx="421.4" cy="218.4" r="1.22"/><circle cx="381.6" cy="228.9" r="1.22"/><circle cx="406.2" cy="229.3" r="1.22"/><circle cx="381.2" cy="188.3" r="1.22"/><circle cx="384.6" cy="188.8" r="1.22"/><circle cx="408.2" cy="188.8" r="1.22"/><circle cx="444.7" cy="205.6" r="1.22"/><circle cx="371.3" cy="219.4" r="1.22"/><circle cx="369.8" cy="211.5" r="1.22"/><circle cx="390.1" cy="193.4" r="1.22"/><circle cx="409.3" cy="206.4" r="1.22"/><circle cx="408.6" cy="210.3" r="1.22"/><circle cx="394.2" cy="213.2" r="1.22"/><circle cx="418.9" cy="208.7" r="1.22"/><circle cx="383.6" cy="213.6" r="1.22"/><circle cx="385.8" cy="211.5" r="1.22"/><circle cx="381.6" cy="198.2" r="1.22"/><circle cx="403.7" cy="219.5" r="1.22"/><circle cx="406.5" cy="208.3" r="1.22"/><circle cx="407.7" cy="212" r="1.22"/><circle cx="400.9" cy="219" r="1.22"/><circle cx="418.7" cy="202.9" r="1.22"/><circle cx="404" cy="191.9" r="1.22"/><circle cx="379.6" cy="209.3" r="1.22"/><circle cx="409.5" cy="209" r="1.22"/><circle cx="378.4" cy="197.8" r="1.22"/><circle cx="402.2" cy="206.1" r="1.22"/><circle cx="420.3" cy="196.7" r="1.22"/><circle cx="401.5" cy="214.9" r="1.22"/><circle cx="388.8" cy="218" r="1.22"/><circle cx="394.2" cy="202.3" r="1.22"/><circle cx="394.9" cy="205.5" r="1.22"/><circle cx="391.4" cy="212.5" r="1.22"/><circle cx="393.8" cy="199.7" r="1.22"/><circle cx="403.5" cy="192.2" r="1.22"/><circle cx="415" cy="208" r="1.22"/><circle cx="380" cy="206.3" r="1.22"/><circle cx="409.2" cy="203.1" r="1.22"/><circle cx="421" cy="202.3" r="1.22"/><circle cx="415.5" cy="201.2" r="1.22"/><circle cx="379.6" cy="217.2" r="1.22"/><circle cx="390.9" cy="209.4" r="1.22"/><circle cx="393.2" cy="209.1" r="1.22"/><circle cx="407" cy="190.9" r="1.22"/><circle cx="407.4" cy="214.6" r="1.22"/><circle cx="417" cy="194.4" r="1.22"/><circle cx="410.9" cy="218.5" r="1.22"/><circle cx="379.7" cy="210" r="1.22"/><circle cx="411.4" cy="196.2" r="1.22"/><circle cx="379.8" cy="204.2" r="1.22"/><circle cx="390.9" cy="194.6" r="1.22"/><circle cx="420.1" cy="206.8" r="1.22"/><circle cx="384.3" cy="203.8" r="1.22"/><circle cx="399" cy="198.9" r="1.22"/><circle cx="408.3" cy="192.2" r="1.22"/><circle cx="394.3" cy="205.3" r="1.22"/><circle cx="416.5" cy="196.5" r="1.22"/><circle cx="394.8" cy="196.7" r="1.22"/><circle cx="410.7" cy="208.2" r="1.22"/><circle cx="406" cy="202.5" r="1.22"/><circle cx="380.5" cy="209.3" r="1.22"/><circle cx="387.4" cy="216.3" r="1.22"/><circle cx="420.5" cy="208.7" r="1.22"/><circle cx="416.8" cy="205" r="1.22"/><circle cx="388.9" cy="196.5" r="1.22"/><circle cx="399.4" cy="210.6" r="1.22"/><circle cx="384.6" cy="214.1" r="1.22"/><circle cx="397.9" cy="201.2" r="1.22"/><circle cx="383" cy="197.4" r="1.22"/><circle cx="380.9" cy="203.6" r="1.22"/><circle cx="401.7" cy="206.6" r="1.22"/><circle cx="404.3" cy="207.9" r="1.22"/><circle cx="390.8" cy="203.2" r="1.22"/><circle cx="385" cy="198.9" r="1.22"/><circle cx="415.2" cy="204.3" r="1.22"/><circle cx="416.5" cy="200.3" r="1.22"/><circle cx="401.4" cy="205.5" r="1.22"/><circle cx="383.5" cy="209.2" r="1.22"/><circle cx="388.8" cy="217" r="1.22"/><circle cx="381.5" cy="198.1" r="1.22"/><circle cx="402.5" cy="207.9" r="1.22"/><circle cx="380.4" cy="202.3" r="1.22"/><circle cx="379.5" cy="207.1" r="1.22"/><circle cx="407.8" cy="211" r="1.22"/><circle cx="403.3" cy="200.1" r="1.22"/><circle cx="402.3" cy="214.5" r="1.22"/><circle cx="396" cy="201.5" r="1.22"/><circle cx="395.2" cy="218" r="1.22"/><circle cx="414.2" cy="206.1" r="1.22"/><circle cx="408.1" cy="198.3" r="1.22"/><circle cx="402.6" cy="207.1" r="1.22"/><circle cx="375.7" cy="216.6" r="1.22"/><circle cx="390.4" cy="200.6" r="1.22"/><circle cx="391" cy="206" r="1.22"/><circle cx="389.4" cy="197.8" r="1.22"/><circle cx="390.7" cy="194.9" r="1.22"/><circle cx="416" cy="208" r="1.22"/><circle cx="415.9" cy="211.6" r="1.22"/><circle cx="397" cy="200.7" r="1.22"/><circle cx="394.2" cy="211.7" r="1.22"/><circle cx="387.9" cy="214" r="1.22"/><circle cx="402" cy="207.2" r="1.22"/><circle cx="403.5" cy="206.8" r="1.22"/><circle cx="394.4" cy="203.4" r="1.22"/><circle cx="381.6" cy="207.1" r="1.22"/><circle cx="398.2" cy="210.6" r="1.22"/><circle cx="392.7" cy="217.4" r="1.22"/><circle cx="412.3" cy="201.9" r="1.22"/><circle cx="394.8" cy="210.1" r="1.22"/><circle cx="405.3" cy="209.3" r="1.22"/><circle cx="398.4" cy="220.3" r="1.22"/><circle cx="381.1" cy="216.9" r="1.22"/><circle cx="377.4" cy="198.8" r="1.22"/><circle cx="391.8" cy="215.1" r="1.22"/><circle cx="378.1" cy="208.1" r="1.22"/><circle cx="405.5" cy="206.4" r="1.22"/><circle cx="414.8" cy="215.4" r="1.22"/><circle cx="402.7" cy="211.5" r="1.22"/><circle cx="389.8" cy="209.5" r="1.22"/><circle cx="380.1" cy="217.4" r="1.22"/><circle cx="383.9" cy="209.4" r="1.22"/><circle cx="395.7" cy="207" r="1.22"/><circle cx="415.1" cy="195.7" r="1.22"/><circle cx="394.9" cy="192.9" r="1.22"/><circle cx="382.4" cy="194.7" r="1.22"/><circle cx="419.5" cy="201.2" r="1.22"/><circle cx="387.5" cy="219.7" r="1.22"/><circle cx="394.3" cy="199.9" r="1.22"/><circle cx="407.5" cy="191.3" r="1.22"/><circle cx="407.7" cy="220.6" r="1.22"/><circle cx="400.5" cy="205.9" r="1.22"/><circle cx="386.4" cy="213.6" r="1.22"/><circle cx="389.3" cy="212.7" r="1.22"/><circle cx="394.5" cy="198.4" r="1.22"/><circle cx="379.5" cy="203.8" r="1.22"/><circle cx="416.6" cy="216.5" r="1.22"/><circle cx="382.3" cy="197.5" r="1.22"/><circle cx="412.4" cy="210.5" r="1.22"/><circle cx="403.2" cy="205.6" r="1.22"/><circle cx="400.8" cy="195.5" r="1.22"/><circle cx="390.5" cy="198" r="1.22"/><circle cx="405.3" cy="219" r="1.22"/><circle cx="405.3" cy="193.6" r="1.22"/><circle cx="417.1" cy="195.4" r="1.22"/><circle cx="404.8" cy="204.8" r="1.22"/><circle cx="391.1" cy="201.5" r="1.22"/><circle cx="411" cy="204.4" r="1.22"/><circle cx="403.8" cy="204.8" r="1.22"/><circle cx="391.9" cy="215" r="1.22"/><circle cx="374.5" cy="204.9" r="1.22"/><circle cx="398.5" cy="193.8" r="1.22"/><circle cx="407.1" cy="206.8" r="1.22"/><circle cx="395.3" cy="205.6" r="1.22"/><circle cx="407.3" cy="191.4" r="1.22"/><circle cx="391.1" cy="195.2" r="1.22"/><circle cx="393.7" cy="206.2" r="1.22"/><circle cx="384" cy="214.5" r="1.22"/><circle cx="395.6" cy="218.5" r="1.22"/><circle cx="407.1" cy="219.5" r="1.22"/><circle cx="396.1" cy="218.2" r="1.22"/><circle cx="394.2" cy="216.3" r="1.22"/><circle cx="407" cy="200.2" r="1.22"/><circle cx="411" cy="218" r="1.22"/><circle cx="395.8" cy="198.5" r="1.22"/><circle cx="409" cy="194.1" r="1.22"/><circle cx="400" cy="201.4" r="1.22"/><circle cx="382.3" cy="212.7" r="1.22"/><circle cx="396.3" cy="198.2" r="1.22"/><circle cx="391.9" cy="212.9" r="1.22"/><circle cx="383.5" cy="212.3" r="1.22"/><circle cx="396.7" cy="209" r="1.22"/><circle cx="386.6" cy="211.6" r="1.22"/><circle cx="403.1" cy="210.7" r="1.22"/><circle cx="381.3" cy="218.3" r="1.22"/><circle cx="389.8" cy="196.2" r="1.22"/><circle cx="384" cy="208.4" r="1.22"/><circle cx="379" cy="216.5" r="1.22"/><circle cx="393.9" cy="202.2" r="1.22"/><circle cx="406.7" cy="208.6" r="1.22"/><circle cx="392.3" cy="198.2" r="1.22"/><circle cx="378.5" cy="204.8" r="1.22"/><circle cx="389.8" cy="218.9" r="1.22"/><circle cx="404.3" cy="210.6" r="1.22"/><circle cx="411.5" cy="218.3" r="1.22"/><circle cx="397.9" cy="217.3" r="1.22"/><circle cx="395.7" cy="210.1" r="1.22"/><circle cx="395.7" cy="217.5" r="1.22"/><circle cx="412.7" cy="210.5" r="1.22"/><circle cx="393.4" cy="221.9" r="1.22"/><circle cx="417.6" cy="195.6" r="1.22"/><circle cx="402.3" cy="214.2" r="1.22"/><circle cx="389.4" cy="215.3" r="1.22"/><circle cx="384.6" cy="213.9" r="1.22"/><circle cx="398.3" cy="195.7" r="1.22"/><circle cx="409.1" cy="202.2" r="1.22"/><circle cx="400.9" cy="203.2" r="1.22"/><circle cx="378.1" cy="213.5" r="1.22"/><circle cx="398.5" cy="199.5" r="1.22"/><circle cx="394" cy="205.4" r="1.22"/><circle cx="381.5" cy="203.9" r="1.22"/><circle cx="392.8" cy="213.9" r="1.22"/><circle cx="403.2" cy="211.4" r="1.22"/><circle cx="414" cy="192.7" r="1.22"/><circle cx="392.2" cy="220.7" r="1.22"/><circle cx="399.8" cy="215.6" r="1.22"/><circle cx="387.5" cy="205.6" r="1.22"/><circle cx="408.5" cy="208.7" r="1.22"/><circle cx="389.6" cy="218.3" r="1.22"/><circle cx="409.6" cy="194.9" r="1.22"/><circle cx="384.4" cy="196.6" r="1.22"/><circle cx="418.2" cy="202.2" r="1.22"/><circle cx="387.7" cy="208.9" r="1.22"/><circle cx="409" cy="209.9" r="1.22"/><circle cx="394.7" cy="200.1" r="1.22"/><circle cx="403.6" cy="206.5" r="1.22"/><circle cx="390.6" cy="200.7" r="1.22"/><circle cx="403.7" cy="200.5" r="1.22"/><circle cx="406" cy="220.1" r="1.22"/><circle cx="389.6" cy="211" r="1.22"/><circle cx="408.4" cy="194.4" r="1.22"/><circle cx="385.8" cy="203.1" r="1.22"/><circle cx="394.8" cy="220.7" r="1.22"/><circle cx="397.1" cy="199.7" r="1.22"/><circle cx="399.1" cy="194.9" r="1.22"/><circle cx="409.9" cy="216.8" r="1.22"/><circle cx="400.9" cy="220.4" r="1.22"/><circle cx="400.6" cy="208.8" r="1.22"/><circle cx="402.4" cy="204.1" r="1.22"/><circle cx="409" cy="204.3" r="1.22"/><circle cx="388.6" cy="197.7" r="1.22"/><circle cx="420.6" cy="199.1" r="1.22"/><circle cx="408.2" cy="196.4" r="1.22"/><circle cx="389.6" cy="198.2" r="1.22"/><circle cx="405.8" cy="206.2" r="1.22"/><circle cx="404.7" cy="201" r="1.22"/><circle cx="413.7" cy="214.4" r="1.22"/><circle cx="397.5" cy="207.7" r="1.22"/><circle cx="399" cy="213.1" r="1.22"/><circle cx="398.6" cy="205.7" r="1.22"/><circle cx="376.2" cy="212.7" r="1.22"/><circle cx="405.2" cy="214.9" r="1.22"/><circle cx="402.3" cy="196.1" r="1.22"/><circle cx="409.2" cy="211.6" r="1.22"/><circle cx="383" cy="204" r="1.22"/><circle cx="403.9" cy="206.9" r="1.22"/><circle cx="390" cy="215.9" r="1.22"/><circle cx="409.3" cy="218.6" r="1.22"/><circle cx="402.1" cy="219.4" r="1.22"/><circle cx="409.2" cy="213.7" r="1.22"/><circle cx="405.1" cy="214.5" r="1.22"/><circle cx="381.1" cy="216.5" r="1.22"/><circle cx="407.5" cy="209.6" r="1.22"/><circle cx="390.6" cy="213" r="1.22"/><circle cx="415.2" cy="194.2" r="1.22"/><circle cx="380.3" cy="216" r="1.22"/><circle cx="394.6" cy="205.5" r="1.22"/><circle cx="401.1" cy="193.8" r="1.22"/><circle cx="412.4" cy="213.1" r="1.22"/><circle cx="383.6" cy="210.1" r="1.22"/><circle cx="381.9" cy="218.6" r="1.22"/><circle cx="410.8" cy="204.2" r="1.22"/><circle cx="403.3" cy="193.7" r="1.22"/><circle cx="395.8" cy="203.7" r="1.22"/><circle cx="405.9" cy="203.5" r="1.22"/><circle cx="419.3" cy="211.8" r="1.22"/><circle cx="379.9" cy="202.2" r="1.22"/><circle cx="384.9" cy="206.1" r="1.22"/><circle cx="404.7" cy="213.3" r="1.22"/><circle cx="404.5" cy="193.9" r="1.22"/><circle cx="394.2" cy="194.1" r="1.22"/><circle cx="384.8" cy="206.7" r="1.22"/><circle cx="412.2" cy="196.7" r="1.22"/><circle cx="404.7" cy="195.6" r="1.22"/><circle cx="407.4" cy="218.3" r="1.22"/><circle cx="404.4" cy="209.8" r="1.22"/><circle cx="419.9" cy="203.2" r="1.22"/><circle cx="392.2" cy="215.5" r="1.22"/><circle cx="400.9" cy="206.2" r="1.22"/><circle cx="416.3" cy="214.1" r="1.22"/><circle cx="383.4" cy="201.4" r="1.22"/><circle cx="393.5" cy="203.3" r="1.22"/><circle cx="385.4" cy="216.5" r="1.22"/><circle cx="415.6" cy="207.3" r="1.22"/><circle cx="397.9" cy="209.1" r="1.22"/><circle cx="384.8" cy="220.2" r="1.22"/><circle cx="404.3" cy="203.5" r="1.22"/><circle cx="400.9" cy="208.1" r="1.22"/><circle cx="389.1" cy="198" r="1.22"/><circle cx="394.6" cy="206.4" r="1.22"/><circle cx="414.8" cy="203.5" r="1.22"/><circle cx="397.1" cy="198.1" r="1.22"/><circle cx="382.9" cy="211.9" r="1.22"/><circle cx="415.6" cy="203.9" r="1.22"/><circle cx="386.7" cy="202.4" r="1.22"/><circle cx="394.8" cy="203.8" r="1.22"/><circle cx="379.4" cy="198.6" r="1.22"/><circle cx="403.6" cy="208.9" r="1.22"/><circle cx="416.7" cy="202.1" r="1.22"/><circle cx="392.6" cy="199.3" r="1.22"/><circle cx="396.5" cy="194.3" r="1.22"/><circle cx="397" cy="209.9" r="1.22"/><circle cx="384.4" cy="197.7" r="1.22"/><circle cx="402.3" cy="199" r="1.22"/><circle cx="419.4" cy="203.9" r="1.22"/><circle cx="398.8" cy="204.3" r="1.22"/><circle cx="417.9" cy="210.1" r="1.22"/><circle cx="391.8" cy="210.5" r="1.22"/><circle cx="394.8" cy="201.3" r="1.22"/><circle cx="392.6" cy="219.8" r="1.22"/><circle cx="420.3" cy="212.2" r="1.22"/><circle cx="388.2" cy="210.9" r="1.22"/><circle cx="392.8" cy="220.6" r="1.22"/><circle cx="392" cy="199" r="1.22"/><circle cx="415.3" cy="199.6" r="1.22"/><circle cx="404" cy="218.5" r="1.22"/><circle cx="388.5" cy="205.8" r="1.22"/><circle cx="407.5" cy="196.2" r="1.22"/><circle cx="403.6" cy="202" r="1.22"/><circle cx="389.8" cy="212.5" r="1.22"/><circle cx="391.1" cy="216.6" r="1.22"/><circle cx="393.3" cy="201.9" r="1.22"/><circle cx="416.9" cy="210.6" r="1.22"/><circle cx="386.4" cy="204.5" r="1.22"/><circle cx="397.4" cy="213.4" r="1.22"/><circle cx="408" cy="216.2" r="1.22"/><circle cx="400.2" cy="193.1" r="1.22"/><circle cx="407.2" cy="210.1" r="1.22"/><circle cx="388.8" cy="211.1" r="1.22"/><circle cx="398.8" cy="202" r="1.22"/></g>
<polygon points="363.5,206.4 400,205.4 448.3,201.6 448.3,206.6 400,207.2 363.5,209.6" fill="#8a8a8a" fill-opacity=".38"/>
<line x1="363.5" y1="208" x2="448.3" y2="204" stroke="#1848f5" stroke-width="1.6"/>
</g>
<rect x="358.7" y="145.8" width="101.5" height="100.4" fill="none" stroke="#787878" stroke-width=".95"/>
<path d="M356.5 242h1.7M356.5 217.3h1.7M356.5 192.6h1.7M356.5 167.9h1.7M363.4 246.6v1.5M394 246.6v1.5M424.6 246.6v1.5M455.2 246.6v1.5" stroke="#444" stroke-width=".7" fill="none"/>
<text class="t" x="358.4" y="139.8">E Successional</text>
<text class="a" x="363.6" y="156.1"><tspan class="i">P</tspan> = 0.168, <tspan class="i">n</tspan> = 351</text>
<text class="a" x="363.6" y="163.7"><tspan class="i">R</tspan><tspan dy="-3.8" dx=".2" font-size="5.6">2</tspan><tspan dy="3.8" dx="2.8">&lt;</tspan><tspan dx="1.3">0.01</tspan></text>
<text class="k" text-anchor="middle" x="363.4" y="256.3">0.08</text>
<text class="k" text-anchor="middle" x="394" y="256.3">0.16</text>
<text class="k" text-anchor="middle" x="424.6" y="256.3">0.24</text>
<text class="k" text-anchor="middle" x="455.2" y="256.3">0.32</text>
</g>
<g>
<clipPath id="c9"><rect x="470.5" y="145.8" width="100.9" height="100.4"/></clipPath>
<g clip-path="url(#c9)">
<g class="p"><circle cx="501.5" cy="164.3" r="1.22"/><circle cx="502.8" cy="169.9" r="1.22"/><circle cx="513.3" cy="175.4" r="1.22"/><circle cx="518.2" cy="182.3" r="1.22"/><circle cx="522.2" cy="182.7" r="1.22"/><circle cx="531.6" cy="185.2" r="1.22"/><circle cx="528.1" cy="187.6" r="1.22"/><circle cx="529.7" cy="188.2" r="1.22"/><circle cx="492.6" cy="182.7" r="1.22"/><circle cx="495.6" cy="184.6" r="1.22"/><circle cx="489.6" cy="185.2" r="1.22"/><circle cx="488.3" cy="187.6" r="1.22"/><circle cx="496.5" cy="187.6" r="1.22"/><circle cx="502.5" cy="187.2" r="1.22"/><circle cx="503.4" cy="188" r="1.22"/><circle cx="516.6" cy="189.6" r="1.22"/><circle cx="501.5" cy="192.5" r="1.22"/><circle cx="512.3" cy="193.5" r="1.22"/><circle cx="517.2" cy="193.9" r="1.22"/><circle cx="490.6" cy="195.1" r="1.22"/><circle cx="494.6" cy="196.5" r="1.22"/><circle cx="503.4" cy="196.1" r="1.22"/><circle cx="504.4" cy="197.1" r="1.22"/><circle cx="518.2" cy="196.5" r="1.22"/><circle cx="519.8" cy="197.8" r="1.22"/><circle cx="525.1" cy="197.1" r="1.22"/><circle cx="500.5" cy="199.4" r="1.22"/><circle cx="502.1" cy="201" r="1.22"/><circle cx="507.4" cy="200.4" r="1.22"/><circle cx="512.3" cy="201" r="1.22"/><circle cx="522.2" cy="200.4" r="1.22"/><circle cx="527.7" cy="201.4" r="1.22"/><circle cx="487.7" cy="203" r="1.22"/><circle cx="501.1" cy="203.8" r="1.22"/><circle cx="505.4" cy="204.4" r="1.22"/><circle cx="512.3" cy="204.9" r="1.22"/><circle cx="516.6" cy="206.3" r="1.22"/><circle cx="524.1" cy="205.7" r="1.22"/><circle cx="528.1" cy="203.8" r="1.22"/><circle cx="540.9" cy="201.8" r="1.22"/><circle cx="547.4" cy="201.8" r="1.22"/><circle cx="535" cy="207.3" r="1.22"/><circle cx="494.2" cy="208.3" r="1.22"/><circle cx="500.1" cy="206.3" r="1.22"/><circle cx="506.4" cy="208.3" r="1.22"/><circle cx="518.2" cy="209.3" r="1.22"/><circle cx="487.7" cy="203.3" r="1.22"/><circle cx="494.6" cy="208.4" r="1.22"/><circle cx="489.6" cy="212.3" r="1.22"/><circle cx="484.7" cy="217.1" r="1.22"/><circle cx="488.3" cy="214.7" r="1.22"/><circle cx="489.6" cy="217.1" r="1.22"/><circle cx="496.1" cy="213.1" r="1.22"/><circle cx="498.5" cy="212.7" r="1.22"/><circle cx="501.5" cy="209.8" r="1.22"/><circle cx="505.4" cy="207.8" r="1.22"/><circle cx="506.8" cy="209.2" r="1.22"/><circle cx="504.4" cy="216.3" r="1.22"/><circle cx="512.3" cy="214.7" r="1.22"/><circle cx="515.3" cy="208.8" r="1.22"/><circle cx="516.6" cy="213.7" r="1.22"/><circle cx="519.2" cy="210.4" r="1.22"/><circle cx="520.2" cy="211.8" r="1.22"/><circle cx="519.8" cy="214.7" r="1.22"/><circle cx="522.2" cy="214.3" r="1.22"/><circle cx="524.1" cy="205.8" r="1.22"/><circle cx="526.1" cy="223.2" r="1.22"/><circle cx="533" cy="215.7" r="1.22"/><circle cx="535" cy="208.4" r="1.22"/><circle cx="536" cy="211.8" r="1.22"/><circle cx="537.5" cy="214.7" r="1.22"/><circle cx="538.9" cy="206.4" r="1.22"/><circle cx="543.5" cy="208.4" r="1.22"/><circle cx="547.4" cy="201.9" r="1.22"/><circle cx="551.7" cy="207.2" r="1.22"/><circle cx="540.9" cy="202.5" r="1.22"/><circle cx="501.5" cy="202.9" r="1.22"/><circle cx="509.4" cy="204.9" r="1.22"/><circle cx="511.9" cy="203.9" r="1.22"/><circle cx="518.2" cy="198.9" r="1.22"/><circle cx="522.2" cy="200.9" r="1.22"/><circle cx="500.5" cy="204.5" r="1.22"/><circle cx="507.4" cy="202.9" r="1.22"/></g>
<polygon points="485.1,195 512,199.6 551.8,202.2 551.8,210.4 512,203 485.1,200.8" fill="#8a8a8a" fill-opacity=".38"/>
<line x1="485.1" y1="197.9" x2="551.8" y2="206.2" stroke="#1848f5" stroke-width="1.6"/>
</g>
<rect x="470.5" y="145.8" width="100.9" height="100.4" fill="none" stroke="#787878" stroke-width=".95"/>
<path d="M468.3 242h1.7M468.3 217.3h1.7M468.3 192.6h1.7M468.3 167.9h1.7M474.5 246.6v1.5M505.3 246.6v1.5M536.1 246.6v1.5M566.9 246.6v1.5" stroke="#444" stroke-width=".7" fill="none"/>
<text class="t" x="470.2" y="139.8">Restored Prairie</text>
<text class="a" x="475.4" y="156.1"><tspan class="i">P</tspan> = 0.084, <tspan class="i">n</tspan> = 101</text>
<text class="a" x="475.4" y="163.7"><tspan class="i">R</tspan><tspan dy="-3.8" dx=".2" font-size="5.6">2</tspan><tspan dy="3.8" dx="2.8">=</tspan><tspan dx="1.3">0.03</tspan></text>
<text class="k" text-anchor="middle" x="474.5" y="256.3">0.10</text>
<text class="k" text-anchor="middle" x="505.3" y="256.3">0.15</text>
<text class="k" text-anchor="middle" x="536.1" y="256.3">0.20</text>
<text class="k" text-anchor="middle" x="566.9" y="256.3">0.25</text>
</g>
<text class="l" text-anchor="middle" transform="translate(8.4 63.1) rotate(-90)">Chloropyll Content (SPAD)</text>
<text class="l" text-anchor="middle" transform="translate(8.4 196.1) rotate(-90)">Chloropyll Content (SPAD)</text>
<text class="m" text-anchor="middle" x="297.8" y="267.1">Albedo</text>
</svg></body></html>
